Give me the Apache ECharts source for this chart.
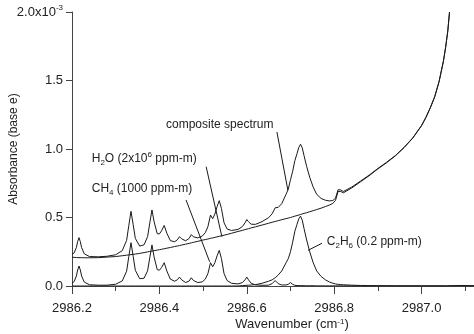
<!DOCTYPE html>
<html>
<head>
<meta charset="utf-8">
<script src="https://cdn.jsdelivr.net/npm/echarts@6/dist/echarts.min.js"></script>
<style>
html,body{margin:0;padding:0;background:#fff;}
#chart{width:474px;height:334px;}
</style>
</head>
<body>
<div id="chart"></div>
<script>
// Wavenumber grid (cm-1) shared by all spectra
const wavenumber = [
  2986.200, 2986.205, 2986.210, 2986.213, 2986.216, 2986.219, 2986.222, 2986.228, 2986.240, 2986.260,
  2986.280, 2986.300, 2986.315, 2986.325, 2986.330, 2986.335, 2986.340, 2986.345, 2986.355, 2986.365,
  2986.373, 2986.378, 2986.383, 2986.388, 2986.395, 2986.400, 2986.405, 2986.411, 2986.417, 2986.425,
  2986.435, 2986.441, 2986.446, 2986.451, 2986.460, 2986.468, 2986.473, 2986.478, 2986.488, 2986.498,
  2986.505, 2986.511, 2986.517, 2986.522, 2986.527, 2986.532, 2986.537, 2986.542, 2986.548, 2986.555,
  2986.565, 2986.580, 2986.590, 2986.596, 2986.600, 2986.604, 2986.610, 2986.620, 2986.635, 2986.650,
  2986.658, 2986.665, 2986.672, 2986.680, 2986.690, 2986.695, 2986.700, 2986.705, 2986.710, 2986.715,
  2986.719, 2986.723, 2986.727, 2986.731, 2986.737, 2986.744, 2986.752, 2986.760, 2986.770, 2986.780,
  2986.790, 2986.797, 2986.803, 2986.809, 2986.815, 2986.821, 2986.840, 2986.860, 2986.880, 2986.900,
  2986.920, 2986.940, 2986.960, 2986.980, 2987.000, 2987.010, 2987.020, 2987.030, 2987.040, 2987.050,
  2987.055, 2987.060, 2987.064, 2987.090, 2987.120
];
// Absorbance (x10^-3, base e)
const ch4 = [
  0.020, 0.033, 0.073, 0.117, 0.146, 0.117, 0.073, 0.029, 0.009, 0.006,
  0.006, 0.013, 0.037, 0.108, 0.214, 0.316, 0.217, 0.114, 0.053, 0.057,
  0.111, 0.207, 0.300, 0.210, 0.120, 0.115, 0.135, 0.170, 0.110, 0.050,
  0.035, 0.045, 0.065, 0.045, 0.025, 0.036, 0.060, 0.040, 0.025, 0.030,
  0.050, 0.090, 0.170, 0.140, 0.170, 0.220, 0.260, 0.200, 0.090, 0.040,
  0.020, 0.015, 0.025, 0.045, 0.065, 0.045, 0.020, 0.008, 0.005, 0.006,
  0.017, 0.040, 0.017, 0.007, 0.008, 0.012, 0.025, 0.012, 0.005, 0.003,
  0.003, 0.003, 0.002, 0.002, 0.002, 0.002, 0.002, 0.001, 0.001, 0.001,
  0.001, 0.001, 0.001, 0.001, 0.001, 0.001, 0.001, 0.001, 0.001, 0.001,
  0.001, 0.001, 0.001, 0.001, 0.001, 0.001, 0.001, 0.001, 0.001, 0.001,
  0.001, 0.001, 0.001, 0.004, 0.002
];
const c2h6 = [
  0, 0, 0, 0, 0, 0, 0, 0, 0, 0,
  0, 0, 0, 0, 0, 0, 0, 0, 0, 0,
  0, 0, 0, 0, 0, 0, 0, 0, 0, 0,
  0, 0, 0, 0, 0, 0, 0, 0, 0, 0,
  0, 0, 0, 0, 0, 0, 0, 0, 0, 0,
  0, 0, 0.003, 0.004, 0.005, 0.006, 0.007, 0.010, 0.020, 0.035,
  0.045, 0.060, 0.080, 0.110, 0.170, 0.200, 0.250, 0.320, 0.400, 0.450,
  0.490, 0.510, 0.480, 0.420, 0.336, 0.250, 0.170, 0.110, 0.070, 0.045,
  0.028, 0.020, 0.015, 0.012, 0.010, 0.009, 0.006, 0.004, 0.003, 0.002,
  0.002, 0.001, 0.001, 0.001, 0.001, 0.001, 0.001, 0.001, 0.001, 0.001,
  0.001, 0.001, 0.001, 0.001, 0.001
];
const h2o = [
  0.210, 0.209, 0.208, 0.208, 0.207, 0.207, 0.207, 0.206, 0.206, 0.207,
  0.211, 0.215, 0.221, 0.225, 0.227, 0.229, 0.231, 0.233, 0.238, 0.244,
  0.249, 0.252, 0.255, 0.258, 0.262, 0.265, 0.268, 0.272, 0.276, 0.281,
  0.288, 0.292, 0.295, 0.299, 0.305, 0.311, 0.315, 0.319, 0.326, 0.334,
  0.339, 0.343, 0.348, 0.351, 0.355, 0.359, 0.363, 0.366, 0.371, 0.376,
  0.385, 0.398, 0.406, 0.412, 0.415, 0.418, 0.424, 0.432, 0.445, 0.458,
  0.465, 0.471, 0.477, 0.484, 0.492, 0.496, 0.500, 0.505, 0.510, 0.514,
  0.518, 0.522, 0.526, 0.530, 0.535, 0.542, 0.550, 0.558, 0.568, 0.580,
  0.592, 0.603, 0.625, 0.690, 0.690, 0.680, 0.715, 0.760, 0.805, 0.855,
  0.900, 0.950, 1.010, 1.080, 1.170, 1.230, 1.300, 1.380, 1.490, 1.640,
  1.740, 1.860, 2.000, null, null
];
const composite = [
  0.230, 0.242, 0.281, 0.325, 0.353, 0.324, 0.280, 0.235, 0.215, 0.213,
  0.217, 0.228, 0.258, 0.333, 0.441, 0.545, 0.448, 0.347, 0.291, 0.301,
  0.360, 0.459, 0.555, 0.468, 0.382, 0.380, 0.403, 0.442, 0.386, 0.331,
  0.323, 0.337, 0.360, 0.344, 0.330, 0.347, 0.375, 0.359, 0.351, 0.364,
  0.389, 0.433, 0.518, 0.491, 0.525, 0.579, 0.623, 0.566, 0.461, 0.416,
  0.405, 0.413, 0.434, 0.461, 0.485, 0.469, 0.451, 0.450, 0.470, 0.499,
  0.527, 0.571, 0.574, 0.601, 0.670, 0.708, 0.775, 0.837, 0.915, 0.967,
  1.011, 1.035, 1.008, 0.952, 0.873, 0.794, 0.722, 0.669, 0.639, 0.626,
  0.621, 0.624, 0.641, 0.703, 0.701, 0.690, 0.722, 0.765, 0.809, 0.858,
  0.903, 0.952, 1.012, 1.082, 1.172, 1.232, 1.302, 1.382, 1.492, 1.642,
  1.742, 1.862, 2.000, null, null
];
const xMajorTicks = [2986.2, 2986.4, 2986.6, 2986.8, 2987.0];
const xMinorTicks = [2986.3, 2986.5, 2986.7, 2986.9, 2987.1];
const yTicks = [0, 0.5, 1.0, 1.5, 2.0];

// Annotation texts, anchored in data coordinates
const annotationTexts = [
  'composite spectrum',
  'H{sub|2}O (2x10{sup|6} ppm-m)',
  'CH{sub|4} (1000 ppm-m)',
  'C{sub|2}H{sub|6} (0.2 ppm-m)'
];
const annotationAnchors = [[2986.414, 1.18], [2986.244, 0.927], [2986.244, 0.708], [2986.782, 0.321]];
const pointerFrom = [[2986.669, 1.124], [2986.507, 0.871], [2986.461, 0.628], [2986.772, 0.312]];
const pointerTo = [[2986.694, 0.70], [2986.543, 0.36], [2986.515, 0.177], [2986.740, 0.26]];

const FONT = '"Liberation Sans", Arial, sans-serif';
const TXT = '#222';
const richText = {
  b: { fontSize: 12, fontFamily: FONT, color: TXT, lineHeight: 16 },
  sub: { fontSize: 8, fontFamily: FONT, color: TXT, verticalAlign: 'bottom', lineHeight: 9 },
  sup: { fontSize: 8, fontFamily: FONT, color: TXT, verticalAlign: 'top', lineHeight: 9 }
};

function pairs(ys) { return wavenumber.map((x, i) => [x, ys[i]]); }
function wrapB(s) {
  return s.split(/(\{[a-z]+\|[^}]*\})/).filter(p => p.length).map(p => p.startsWith('{') ? p : '{b|' + p + '}').join('');
}

const lineStyle = { color: '#1a1a1a', width: 1 };
function mkSeries(name, ys, extra) {
  return Object.assign({
    name: name, type: 'line', data: pairs(ys), showSymbol: false, symbol: 'none',
    lineStyle: lineStyle, xAxisIndex: 0, yAxisIndex: 0, silent: true, connectNulls: false
  }, extra || {});
}

const chart = echarts.init(document.getElementById('chart'), null, { renderer: 'canvas' });
chart.setOption({
  animation: false,
  backgroundColor: '#fff',
  grid: { left: 72, right: 0, top: 12, bottom: 48, containLabel: false, outerBoundsMode: 'none' },
  xAxis: [{
    type: 'value', min: 2986.2, max: 2987.12, position: 'bottom',
    name: 'Wavenumber (cm{sup|-1})', nameLocation: 'middle', nameGap: 32, nameMoveOverlap: false,
    nameTextStyle: {
      fontSize: 13, fontFamily: FONT, color: TXT, padding: [0, 0, 0, 38],
      rich: { sup: { fontSize: 8, fontFamily: FONT, color: TXT, verticalAlign: 'top', lineHeight: 9 } }
    },
    axisLine: { show: true, lineStyle: { color: '#444', width: 1 } },
    axisTick: { show: true, inside: false, length: 8, customValues: xMajorTicks, lineStyle: { color: '#444' } },
    axisLabel: { show: true, customValues: xMajorTicks, margin: 16, fontSize: 13, fontFamily: FONT, color: TXT,
      formatter: v => Number(v).toFixed(1) },
    splitLine: { show: false }
  }, {
    type: 'value', min: 2986.2, max: 2987.12, position: 'bottom',
    axisLine: { show: false },
    axisTick: { show: true, inside: false, length: 5, customValues: xMinorTicks, lineStyle: { color: '#444' } },
    axisLabel: { show: false },
    splitLine: { show: false }
  }],
  yAxis: {
    type: 'value', min: 0, max: 2.0, interval: 0.5,
    name: 'Absorbance (base e)', nameLocation: 'middle', nameGap: 52, nameMoveOverlap: false,
    nameTextStyle: { fontSize: 12, fontFamily: FONT, color: TXT },
    axisLine: { show: true, lineStyle: { color: '#444', width: 1 } },
    axisTick: { show: true, inside: false, length: 6, lineStyle: { color: '#444' } },
    axisLabel: {
      margin: 9, fontSize: 13, fontFamily: FONT, color: TXT,
      formatter: v => (Math.abs(v - yTicks[yTicks.length - 1]) < 1e-9 ? '{n|' + v.toFixed(1) + 'x10}{s|-3}' : v.toFixed(1)),
      rich: {
        n: { fontSize: 13, fontFamily: FONT, color: TXT, lineHeight: 16 },
        s: { fontSize: 8, fontFamily: FONT, color: TXT, verticalAlign: 'top', lineHeight: 9 }
      }
    },
    splitLine: { show: false }
  },
  series: [
    mkSeries('CH4', ch4),
    mkSeries('C2H6', c2h6),
    mkSeries('H2O', h2o),
    mkSeries('composite', composite, {
      markLine: {
        silent: true, symbol: ['none', 'none'], animation: false,
        lineStyle: { color: '#1a1a1a', width: 1, type: 'solid' },
        label: { show: false },
        data: pointerFrom.map((p, i) => [{ coord: p }, { coord: pointerTo[i] }])
      },
      markPoint: {
        silent: true, symbol: 'circle', symbolSize: 1, animation: false,
        itemStyle: { color: 'rgba(0,0,0,0)' },
        label: { show: true, position: 'right', distance: 0, color: TXT },
        data: annotationTexts.map((t, i) => ({
          coord: annotationAnchors[i],
          label: { show: true, position: 'right', distance: 0, formatter: wrapB(t), rich: richText }
        }))
      }
    })
  ]
});
</script>
</body>
</html>
